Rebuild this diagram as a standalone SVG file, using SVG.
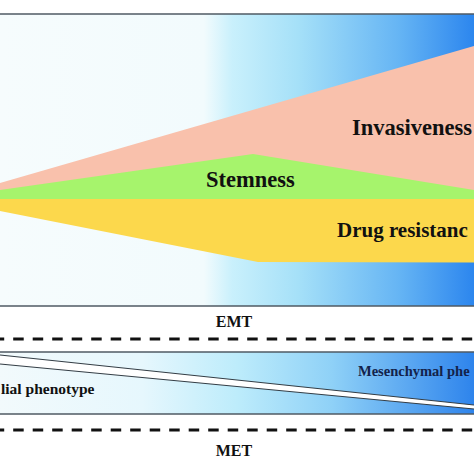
<svg xmlns="http://www.w3.org/2000/svg" width="474" height="474" viewBox="0 0 474 474">
<defs>
<linearGradient id="gTop" gradientUnits="userSpaceOnUse" x1="0" y1="0" x2="474" y2="0">
<stop offset="0" stop-color="#f6fcfd"/>
<stop offset="0.43" stop-color="#f2fbfd"/>
<stop offset="0.49" stop-color="#c9f0fc"/>
<stop offset="0.63" stop-color="#a5e0f8"/>
<stop offset="0.84" stop-color="#66b5f4"/>
<stop offset="1" stop-color="#2c86ee"/>
</linearGradient>
<linearGradient id="gMid" gradientUnits="userSpaceOnUse" x1="0" y1="0" x2="474" y2="0">
<stop offset="0" stop-color="#f2fafc"/>
<stop offset="0.3" stop-color="#e6f7fd"/>
<stop offset="0.5" stop-color="#bdecfb"/>
<stop offset="0.7" stop-color="#8fd1f7"/>
<stop offset="1" stop-color="#2e84ec"/>
</linearGradient>
<style>
.border{stroke:#4f5a63;stroke-width:1.5;fill:none}
.dash{stroke:#111;stroke-width:3;stroke-dasharray:10.5 9;stroke-dashoffset:6.3;fill:none}
.big{font-family:"Liberation Serif","Times New Roman",serif;font-weight:bold;font-size:22.5px;fill:#111}
.lbl{font-family:"Liberation Serif","Times New Roman",serif;font-weight:bold;font-size:16px;fill:#111}
.ph{font-family:"Liberation Serif","Times New Roman",serif;font-weight:bold;font-size:15.5px}
</style>
</defs>
<rect x="0" y="0" width="474" height="474" fill="#ffffff"/>
<g id="top-panel">
<rect x="0" y="14" width="474" height="292" fill="url(#gTop)"/>
<polygon id="invasiveness-shape" points="0,183 474,46 474,199 0,199" fill="#f9c1ac"/>
<polygon id="stemness-shape" points="0,190 253,154 474,190 474,199 0,199" fill="#a6f46c"/>
<polygon id="drug-shape" points="0,199 474,199 474,262.5 258,262 0,211" fill="#fcd84c"/>
<line class="border" x1="0" y1="14" x2="474" y2="14"/>
<line class="border" x1="0" y1="306" x2="474" y2="306"/>
</g>
<g id="labels-top">
<text class="big" x="352" y="135">Invasiveness</text>
<text class="big" x="206" y="187">Stemness</text>
<text class="big" x="337" y="237" style="font-size:21px">Drug resistanc</text>
</g>
<g id="emt">
<text class="lbl" x="234" y="327" text-anchor="middle">EMT</text>
</g>
<g id="connectors">
<line class="dash" x1="0" y1="339" x2="474" y2="339"/>
<line class="dash" x1="0" y1="430" x2="474" y2="430"/>
</g>
<g id="phenotype-band">
<rect x="0" y="352" width="474" height="62" fill="url(#gMid)"/>
<polygon points="0,355 474,405 474,409 0,364" fill="#ffffff"/>
<line stroke="#333d45" stroke-width="1.2" x1="0" y1="355" x2="474" y2="405"/>
<line stroke="#333d45" stroke-width="1.2" x1="0" y1="364" x2="474" y2="409"/>
<line class="border" x1="0" y1="352" x2="474" y2="352"/>
<line class="border" x1="0" y1="414" x2="474" y2="414"/>
<text class="ph" x="1" y="394" fill="#111">lial phenotype</text>
<text class="ph" x="358" y="376" style="font-size:14.5px" fill="#13224a">Mesenchymal phe</text>
</g>
<g id="met">
<text class="lbl" x="234" y="456" text-anchor="middle">MET</text>
</g>
</svg>
